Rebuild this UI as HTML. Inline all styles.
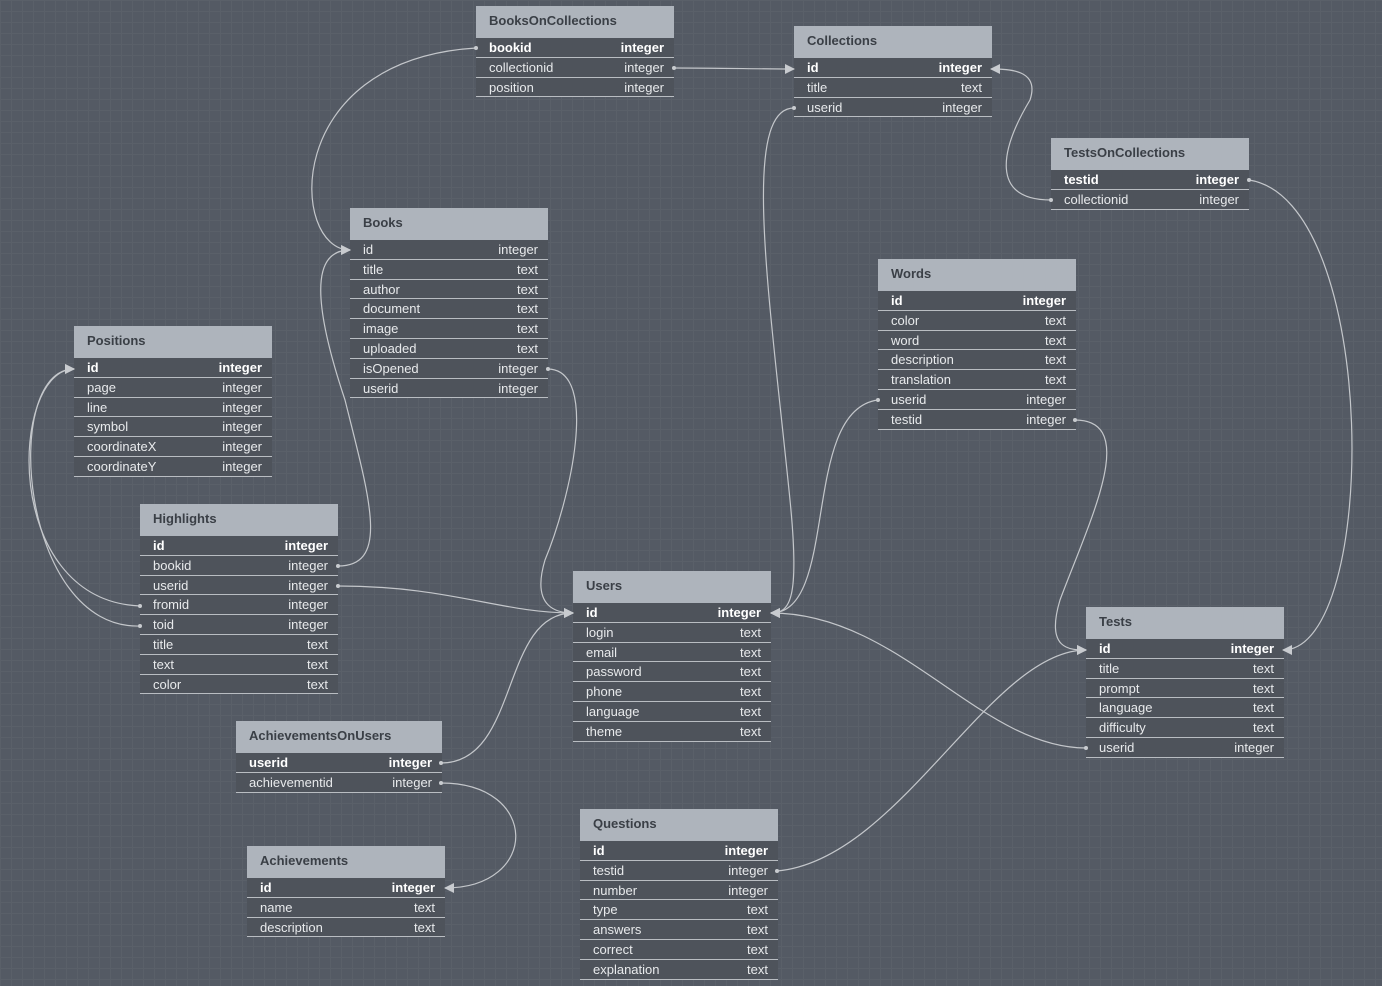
<!DOCTYPE html>
<html><head><meta charset="utf-8"><style>
body{margin:0;width:1382px;height:986px;overflow:hidden;background-color:#545a64;
background-image:linear-gradient(#5a6069 1px,transparent 1px),linear-gradient(90deg,#5a6069 1px,transparent 1px);background-size:11px 11px;font-family:"Liberation Sans",sans-serif;position:relative}
.t{position:absolute;width:198px;background:#4e535b}
.h{height:32px;background:#aeb4bc;color:#3a3f46;font-weight:bold;font-size:13px;line-height:30px;padding-left:13px;box-sizing:border-box}
.r{height:19.8px;box-sizing:border-box;border-bottom:1px solid #b9bdc2;color:#e8eaec;font-size:13px;line-height:19px;padding:0 10px 0 13px;display:flex;justify-content:space-between}
.b{font-weight:bold;color:#fff}
svg{position:absolute;left:0;top:0}
</style></head><body>
<svg width="1382" height="986" style="z-index:2">
<defs>
<marker id="a" markerWidth="10" markerHeight="10" refX="9" refY="5" orient="auto" markerUnits="userSpaceOnUse"><path d="M0,0 L10,5 L0,10 z" fill="#c8cbcf"/></marker>
<marker id="s" markerWidth="6" markerHeight="6" refX="3" refY="3" markerUnits="userSpaceOnUse"><circle cx="3" cy="3" r="2" fill="#c8cbcf"/></marker>
</defs>
<g fill="none" stroke="#c4c7cb" stroke-width="1.2" marker-start="url(#s)" marker-end="url(#a)">
<path d="M476,48 C280,60 290,250 350,250"/>
<path d="M674,68 C720,68 760,69 794,69"/>
<path d="M794,108 C740,108 770,300 790,500 C800,600 790,613 771,613"/>
<path d="M1051,200 C990,200 1000,150 1030,100 C1040,70 1010,69 991,69"/>
<path d="M1249,180 C1380,200 1380,650 1283,650"/>
<path d="M548,369 C600,370 570,500 545,560 C530,610 560,613 573,613"/>
<path d="M338,566 C390,566 370,500 345,400 C305,280 320,250 350,250"/>
<path d="M338,586 C450,586 500,613 573,613"/>
<path d="M140,606 C0,600 10,369 74,369"/>
<path d="M140,626 C20,630 0,369 74,369"/>
<path d="M441,763 C520,763 500,613 573,613"/>
<path d="M441,783 C540,783 540,888 445,888"/>
<path d="M878,400 C800,410 840,613 771,613"/>
<path d="M1075,420 C1140,420 1090,520 1060,600 C1045,650 1070,650 1086,650"/>
<path d="M1086,748 C980,748 900,613 771,613"/>
<path d="M777,871 C900,860 990,650 1086,650"/>
</g>
</svg>

<div class="t" style="left:476px;top:6px"><div class="h">BooksOnCollections</div>
<div class="r b"><span>bookid</span><span>integer</span></div><div class="r"><span>collectionid</span><span>integer</span></div><div class="r"><span>position</span><span>integer</span></div></div>

<div class="t" style="left:794px;top:26px"><div class="h">Collections</div>
<div class="r b"><span>id</span><span>integer</span></div><div class="r"><span>title</span><span>text</span></div><div class="r"><span>userid</span><span>integer</span></div></div>

<div class="t" style="left:1051px;top:138px"><div class="h">TestsOnCollections</div>
<div class="r b"><span>testid</span><span>integer</span></div><div class="r"><span>collectionid</span><span>integer</span></div></div>

<div class="t" style="left:350px;top:208px"><div class="h">Books</div>
<div class="r"><span>id</span><span>integer</span></div><div class="r"><span>title</span><span>text</span></div><div class="r"><span>author</span><span>text</span></div><div class="r"><span>document</span><span>text</span></div><div class="r"><span>image</span><span>text</span></div><div class="r"><span>uploaded</span><span>text</span></div><div class="r"><span>isOpened</span><span>integer</span></div><div class="r"><span>userid</span><span>integer</span></div></div>

<div class="t" style="left:878px;top:259px"><div class="h">Words</div>
<div class="r b"><span>id</span><span>integer</span></div><div class="r"><span>color</span><span>text</span></div><div class="r"><span>word</span><span>text</span></div><div class="r"><span>description</span><span>text</span></div><div class="r"><span>translation</span><span>text</span></div><div class="r"><span>userid</span><span>integer</span></div><div class="r"><span>testid</span><span>integer</span></div></div>

<div class="t" style="left:74px;top:326px"><div class="h">Positions</div>
<div class="r b"><span>id</span><span>integer</span></div><div class="r"><span>page</span><span>integer</span></div><div class="r"><span>line</span><span>integer</span></div><div class="r"><span>symbol</span><span>integer</span></div><div class="r"><span>coordinateX</span><span>integer</span></div><div class="r"><span>coordinateY</span><span>integer</span></div></div>

<div class="t" style="left:140px;top:504px"><div class="h">Highlights</div>
<div class="r b"><span>id</span><span>integer</span></div><div class="r"><span>bookid</span><span>integer</span></div><div class="r"><span>userid</span><span>integer</span></div><div class="r"><span>fromid</span><span>integer</span></div><div class="r"><span>toid</span><span>integer</span></div><div class="r"><span>title</span><span>text</span></div><div class="r"><span>text</span><span>text</span></div><div class="r"><span>color</span><span>text</span></div></div>

<div class="t" style="left:573px;top:571px"><div class="h">Users</div>
<div class="r b"><span>id</span><span>integer</span></div><div class="r"><span>login</span><span>text</span></div><div class="r"><span>email</span><span>text</span></div><div class="r"><span>password</span><span>text</span></div><div class="r"><span>phone</span><span>text</span></div><div class="r"><span>language</span><span>text</span></div><div class="r"><span>theme</span><span>text</span></div></div>

<div class="t" style="left:1086px;top:607px"><div class="h">Tests</div>
<div class="r b"><span>id</span><span>integer</span></div><div class="r"><span>title</span><span>text</span></div><div class="r"><span>prompt</span><span>text</span></div><div class="r"><span>language</span><span>text</span></div><div class="r"><span>difficulty</span><span>text</span></div><div class="r"><span>userid</span><span>integer</span></div></div>

<div class="t" style="left:236px;top:721px;width:206px"><div class="h">AchievementsOnUsers</div>
<div class="r b"><span>userid</span><span>integer</span></div><div class="r"><span>achievementid</span><span>integer</span></div></div>

<div class="t" style="left:247px;top:846px"><div class="h">Achievements</div>
<div class="r b"><span>id</span><span>integer</span></div><div class="r"><span>name</span><span>text</span></div><div class="r"><span>description</span><span>text</span></div></div>

<div class="t" style="left:580px;top:809px"><div class="h">Questions</div>
<div class="r b"><span>id</span><span>integer</span></div><div class="r"><span>testid</span><span>integer</span></div><div class="r"><span>number</span><span>integer</span></div><div class="r"><span>type</span><span>text</span></div><div class="r"><span>answers</span><span>text</span></div><div class="r"><span>correct</span><span>text</span></div><div class="r"><span>explanation</span><span>text</span></div></div>
</body></html>
